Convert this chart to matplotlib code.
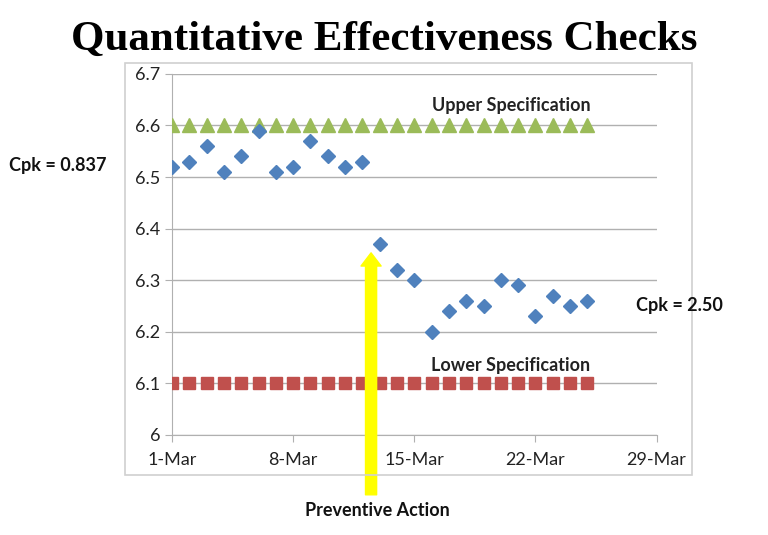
import datetime as dt
import matplotlib
matplotlib.use("Agg")
import matplotlib.pyplot as plt
import matplotlib.dates as mdates
from matplotlib.ticker import FuncFormatter, MultipleLocator
from matplotlib.patches import Rectangle

# data
days = [dt.date(2010, 3, d) for d in range(1, 26)]
measured = [6.52, 6.53, 6.56, 6.51, 6.54, 6.59, 6.51, 6.52, 6.57, 6.54, 6.52, 6.53,
            6.37, 6.32, 6.30, 6.20, 6.24, 6.26, 6.25, 6.30, 6.29, 6.23, 6.27, 6.25, 6.26]
upper_spec = [6.6] * len(days)
lower_spec = [6.1] * len(days)
tick_days = [dt.date(2010, 3, d) for d in (1, 8, 15, 22, 29)]
action_day = dt.datetime(2010, 3, 12, 12)
label_day = dt.datetime(2010, 3, 20, 14)

plt.rcParams['font.family'] = ['Lato', 'DejaVu Sans']

fig = plt.figure(figsize=(7.68, 5.35), dpi=100)
ax = fig.add_axes([0.224, 0.187, 0.631, 0.675])

# chart area frame
fig.patches.append(Rectangle((125 / 768, 1 - 475 / 535), 567 / 768, 412 / 535,
                             transform=fig.transFigure, fill=False,
                             edgecolor='#d0d0d0', linewidth=1.2))

ax.plot(days, upper_spec, linestyle='none', marker='^', markersize=9.5,
        color='#9bbb59', zorder=3)
ax.plot(days, lower_spec, linestyle='none', marker='s', markersize=8,
        color='#c0504d', zorder=3)
ax.plot(days, measured, linestyle='none', marker='D', markersize=7,
        color='#4f81bd', zorder=3)

ax.set_ylim(6.0, 6.7)
ax.yaxis.set_major_locator(MultipleLocator(0.1))
ax.yaxis.set_major_formatter(FuncFormatter(lambda v, p: f"{v:g}" if abs(v - 6) > 1e-9 else "6"))
ax.set_xlim(mdates.date2num(tick_days[0]), mdates.date2num(tick_days[-1]))
ax.set_xticks([mdates.date2num(d) for d in tick_days])
ax.xaxis.set_major_formatter(FuncFormatter(
    lambda v, p: f"{mdates.num2date(v).day}-{mdates.num2date(v):%b}"))

ax.grid(axis='y', color='#b0b0b0', linewidth=1)
ax.set_axisbelow(True)
for s in ('top', 'right'):
    ax.spines[s].set_visible(False)
for s in ('left', 'bottom'):
    ax.spines[s].set_color('#b0b0b0')
ax.tick_params(axis='both', colors='#b0b0b0', labelcolor='#222222',
               labelsize=13, length=5, direction='out')
ax.tick_params(axis='x', pad=7)

fig.text(0.5, 1 - 50 / 535, "Quantitative Effectiveness Checks", ha='center',
         va='baseline', fontsize=31, fontweight='bold', family='Liberation Serif')

ax.text(mdates.date2num(label_day), 6.638, "Upper Specification",
        ha='center', va='center', fontsize=13, fontweight='bold', color='#222222')
ax.text(mdates.date2num(label_day), 6.134, "Lower Specification",
        ha='center', va='center', fontsize=13, fontweight='bold', color='#222222')
fig.text(58 / 768, 1 - 166 / 535, "Cpk = 0.837", ha='center', va='center',
         fontsize=13, fontweight='bold', color='#111111')
fig.text(679 / 768, 1 - 306 / 535, "Cpk = 2.50", ha='center', va='center',
         fontsize=13, fontweight='bold', color='#111111')
fig.text(377 / 768, 1 - 511 / 535, "Preventive Action", ha='center', va='center',
         fontsize=13, fontweight='bold', color='#111111')

ax.annotate('', xy=(mdates.date2num(action_day), 6.353),
            xytext=(mdates.date2num(action_day), 5.884),
            annotation_clip=False,
            arrowprops=dict(arrowstyle='simple,head_length=9.5,head_width=14.5,tail_width=8',
                            mutation_scale=1, color='#ffff00', shrinkA=0, shrinkB=0),
            zorder=5)

fig.savefig("out.png", dpi=100)
